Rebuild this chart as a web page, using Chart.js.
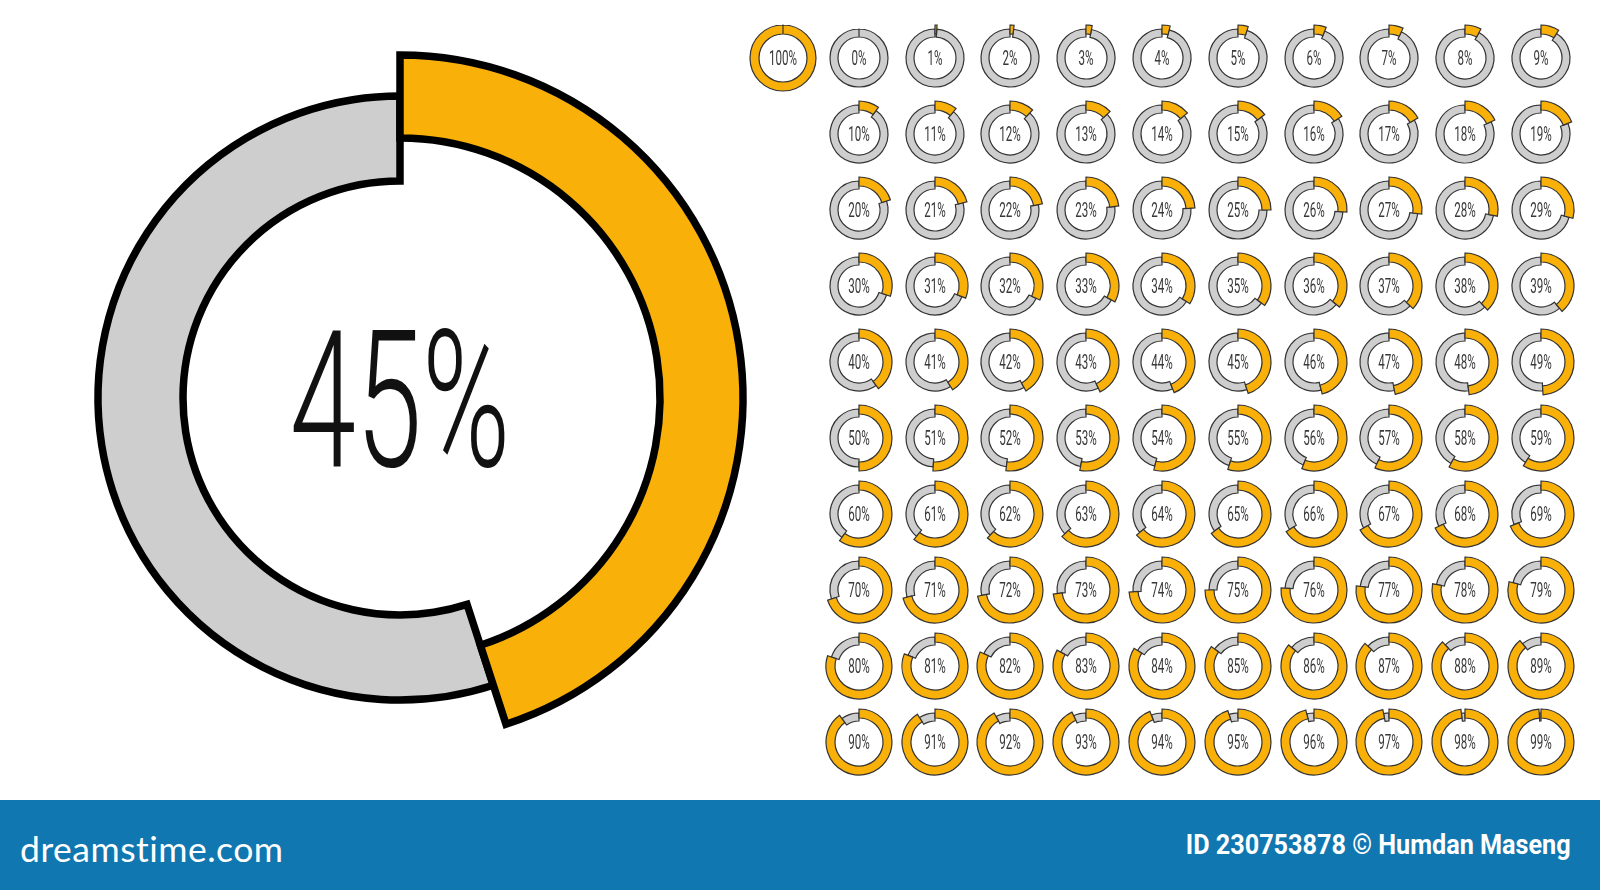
<!DOCTYPE html>
<html lang="en">
<head>
    <meta charset="UTF-8">
    <title>Percentage Donut Set</title>
    <script src="https://cdn.jsdelivr.net/npm/chart.js"></script>
    <style>
        html, body { margin: 0; padding: 0; background: #fff; }
        body { width: 1600px; height: 890px; position: relative; overflow: hidden; font-family: Roboto, "Liberation Sans", sans-serif; }
        .big { position: absolute; left: 40px; top: 38px; width: 720px; height: 720px; }
        .big canvas, .donut canvas { position: absolute; left: 0; top: 0; }
        .big-label { position: absolute; left: 0; top: 3px; width: 720px; height: 720px; line-height: 720px; text-align: center;
                     font-size: 191px; font-weight: 300; color: #111; transform: scaleX(0.625); }
        .donut { position: absolute; width: 76px; height: 76px; }
        .pct { position: absolute; left: 0; top: 0; width: 76px; height: 76px; line-height: 76px; text-align: center;
               font-size: 20px; font-weight: 400; color: #383838; transform: scaleX(0.58); }
        .banner { position: absolute; left: 0; top: 800px; width: 1600px; height: 90px; background: #1077b0; color: #fff; }
        .brand { position: absolute; left: 20px; top: 27px; font-family: Lato, sans-serif; font-size: 35.5px; letter-spacing: 0.5px; }
        .credit { position: absolute; right: 29px; top: 28px; font-size: 28px; font-weight: bold; transform: scaleX(0.9); transform-origin: right center; }
    </style>
</head>
<body>
    <div class="big" id="big">
        <canvas id="big-grey" width="720" height="720"></canvas>
        <canvas id="big-orange" width="720" height="720"></canvas>
        <div class="big-label" id="big-label"></div>
    </div>
    <div id="grid"></div>
    <div class="banner">
        <div class="brand">dreamstime.com</div>
        <div class="credit">ID 230753878 © Humdan Maseng</div>
    </div>

    <script>
        // values
        const bigValue = 45;
        const smallValues = [100,
            0, 1, 2, 3, 4, 5, 6, 7, 8, 9,
            10, 11, 12, 13, 14, 15, 16, 17, 18, 19,
            20, 21, 22, 23, 24, 25, 26, 27, 28, 29,
            30, 31, 32, 33, 34, 35, 36, 37, 38, 39,
            40, 41, 42, 43, 44, 45, 46, 47, 48, 49,
            50, 51, 52, 53, 54, 55, 56, 57, 58, 59,
            60, 61, 62, 63, 64, 65, 66, 67, 68, 69,
            70, 71, 72, 73, 74, 75, 76, 77, 78, 79,
            80, 81, 82, 83, 84, 85, 86, 87, 88, 89,
            90, 91, 92, 93, 94, 95, 96, 97, 98, 99];

        const ORANGE = '#f9b008';
        const GREY = '#cecece';
        const CLEAR = 'rgba(0,0,0,0)';

        // one ring = one doughnut; the filled part and the rest live on separate canvases
        // so the filled part can sit further out than the rest
        function ring(canvas, value, showFilled, radius, inner, border, edge) {
            const rest = 100 - value;
            return new Chart(canvas, {
                type: 'doughnut',
                data: {
                    labels: ['filled', 'rest'],
                    datasets: [{
                        data: [value, rest],
                        backgroundColor: showFilled ? [ORANGE, CLEAR] : [CLEAR, GREY],
                        borderColor: edge,
                        borderWidth: showFilled ? [value ? border : 0, 0] : [0, rest ? border : 0],
                        borderJoinStyle: 'miter'
                    }]
                },
                options: {
                    responsive: false,
                    animation: false,
                    events: [],
                    radius: radius,
                    cutout: (inner / radius * 100) + '%',
                    plugins: { legend: { display: false }, tooltip: { enabled: false } }
                }
            });
        }

        // big one
        ring(document.getElementById('big-grey'), bigValue, false, 302, 217, 7.5, '#000');
        ring(document.getElementById('big-orange'), bigValue, true, 343, 260, 7.5, '#000');
        document.getElementById('big-label').textContent = bigValue + '%';

        // grid of small ones
        const grid = document.getElementById('grid');
        smallValues.forEach((v, i) => {
            let row = 0, col = 0;
            if (i > 0) {
                row = Math.floor((i - 1) / 10);
                col = (i - 1) % 10 + 1;
            }
            const cx = 783 + col * 75.8;
            const cy = 58 + row * 76;
            const box = document.createElement('div');
            box.className = 'donut';
            box.style.left = (cx - 38) + 'px';
            box.style.top = (cy - 38) + 'px';
            const c1 = document.createElement('canvas');
            const c2 = document.createElement('canvas');
            c1.width = c1.height = c2.width = c2.height = 76;
            const lbl = document.createElement('div');
            lbl.className = 'pct';
            lbl.textContent = v + '%';
            box.appendChild(c1);
            box.appendChild(c2);
            box.appendChild(lbl);
            grid.appendChild(box);
            ring(c1, v, false, 29, 21, 1.2, '#333');
            ring(c2, v, true, 33, 24, 1.2, '#333');
        });
    </script>
</body>
</html>
